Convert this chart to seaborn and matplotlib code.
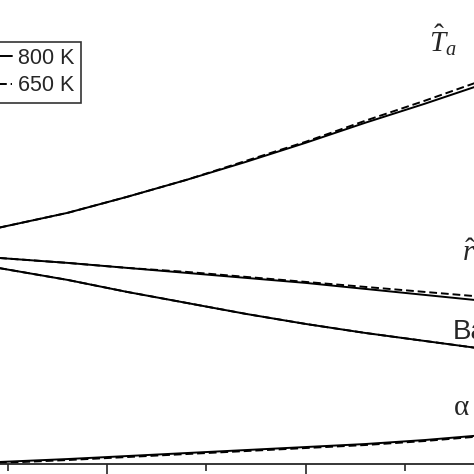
import numpy as np
import pandas as pd
import seaborn as sns
import matplotlib.pyplot as plt

sns.set_style("ticks")
plt.rcParams['font.family'] = ['Liberation Sans', 'DejaVu Sans']
plt.rcParams['mathtext.fontset'] = 'custom'
plt.rcParams['mathtext.rm'] = 'Liberation Serif'
plt.rcParams['mathtext.it'] = 'Liberation Serif:italic'

x = [-0.1, 0.6, 1.2, 1.8, 2.4, 3.0, 3.6, 4.2, 4.8]
ta_800 = [236, 251, 267, 284, 302, 321, 341, 360, 380]
ta_650 = [236, 251, 267, 284, 303, 322, 343, 363, 384]
r_800 = [206, 201, 196, 191, 186, 181, 175, 169, 163]
r_650 = [206, 201, 196, 192, 187, 182, 177, 172, 167]
ba_800 = [196, 184, 172, 161, 150, 140, 131, 123, 115]
ba_650 = [196, 184, 172, 161, 150, 140, 131, 123, 115]
al_800 = [2, 5, 8, 11, 14, 17, 20, 24, 29]
al_650 = [1, 4, 7, 10, 13, 16, 19, 23, 28]

rows = []
for name, s8, s6 in [("Ta", ta_800, ta_650), ("r", r_800, r_650),
                     ("Ba", ba_800, ba_650), ("a", al_800, al_650)]:
    for xi, a, b in zip(x, s8, s6):
        rows.append((name, "800 K", xi, a))
        rows.append((name, "650 K", xi, b))
df = pd.DataFrame(rows, columns=["curve", "T", "x", "y"])

fig = plt.figure(figsize=(4.74, 4.74), dpi=100)
ax = fig.add_axes([0.0, 0.021, 1.05, 1.1])
sns.lineplot(data=df, x="x", y="y", units="curve", style="T", estimator=None,
             color="black", lw=1.4, dashes={"800 K": "", "650 K": (4, 2)},
             legend=False, ax=ax)
ax.set_xlim(-0.081, 4.936)
ax.set_ylim(0, 521)
ax.set_xticks([1, 3])
ax.set_xticks([0, 2, 4], minor=True)
ax.tick_params(which='major', direction='out', length=9, width=1.2, labelbottom=False)
ax.tick_params(which='minor', direction='out', length=5, width=1.2)
ax.set_yticks([])
ax.set_xlabel("")
ax.set_ylabel("")
for s in ["left", "top", "right"]:
    ax.spines[s].set_visible(False)
ax.spines["bottom"].set_linewidth(1.3)

ax.plot([], [], color="black", lw=1.4, label="800 K")
ax.plot([], [], color="black", lw=1.4, ls=(0, (4, 2)), label="650 K")
leg = fig.legend(loc="upper left", bbox_to_anchor=(-0.075, 0.935), frameon=True,
                 fontsize=15.5, handlelength=1.4, handletextpad=0.3, fancybox=False,
                 edgecolor="black", borderpad=0.3, labelspacing=0.3)
leg.get_frame().set_linewidth(1.2)

fig.text(0.905, 0.89, r"$\hat{T}_a$", fontsize=21, ha="left")
fig.text(0.975, 0.45, r"$\hat{r}$", fontsize=21, ha="left")
fig.text(0.955, 0.285, "Ba", fontsize=20, ha="left")
fig.text(0.955, 0.125, r"$\mathrm{\alpha}$", fontsize=21, ha="left")

fig.savefig("out.png", dpi=100)
